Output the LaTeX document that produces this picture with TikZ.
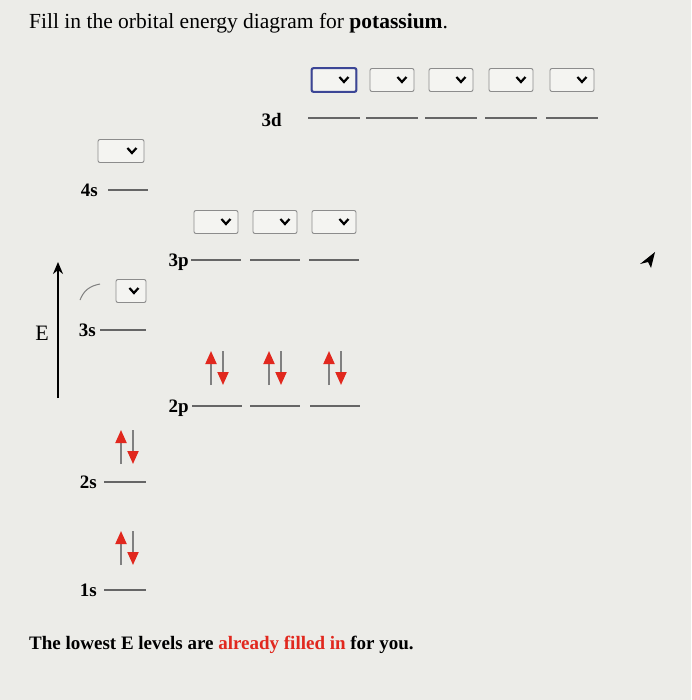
\documentclass[tikz,border=0pt]{standalone}
\usepackage{fontspec}
\setmainfont{Liberation Serif}
\usetikzlibrary{arrows.meta,calc}
\definecolor{bg}{RGB}{236,236,232}
\definecolor{redd}{RGB}{225,40,30}
\definecolor{blu}{RGB}{60,70,150}
\tikzset{
 lvl/.style={draw=gray!80!black,line width=1.5pt},
 lab/.style={font=\bfseries\fontsize{19}{19}\selectfont,anchor=east,inner sep=1pt},
 sel/.style={draw=gray!90,line width=0.9pt,rounded corners=2pt,minimum width=44pt,minimum height=23pt,fill=bg!60!white},
 upa/.style={draw=gray,line width=2pt,-{Triangle[length=13pt,width=11pt,fill=redd,color=redd]}},
}
\newcommand{\chev}[1]{\draw[line width=2.2pt] ($(#1.east)+(-17pt,3pt)$) -- ($(#1.east)+(-12.5pt,-2pt)$) -- ($(#1.east)+(-8pt,3pt)$);}
\newcommand{\pair}[2]{%
 \draw[upa] (#1-6,#2+17) coordinate (u#1#2) -- (#1-6,#2-17);
 \draw[upa] (#1+6,#2-17) coordinate (d#1#2) -- (#1+6,#2+17);}
\begin{document}
\begin{tikzpicture}[x=1pt,y=-1pt]
\fill[bg] (0,0) rectangle (691,700);
\useasboundingbox (0,0) rectangle (691,700);
\node[anchor=base west,font=\fontsize{21.5}{21.5}\selectfont,inner sep=0] (title) at (29,29) {Fill in the orbital energy diagram for \textbf{potassium}.};
% 3d
\node[lab] (l3d) at (283,120) {3d};
\foreach \x [count=\i] in {334,392,451,511,572}{
 \draw[lvl] (\x-26,118) coordinate (a3d\i) -- (\x+26,118);
 \node[sel] (s3d\i) at (\x,80) {}; \chev{s3d\i}}
\draw[blu,line width=2pt,rounded corners=2pt] (s3d1.south west) rectangle (s3d1.north east);
% 4s
\node[lab] (l4s) at (99,190) {4s};
\draw[lvl] (108,190) coordinate (a4s) -- (148,190);
\node[sel,minimum width=46pt] (s4s) at (121,151) {}; \chev{s4s}
% 3p
\node[lab] (l3p) at (190,262) {3p};
\foreach \x [count=\i] in {216,275,334}{
 \draw[lvl] (\x-25,260) coordinate (a3p\i) -- (\x+25,260);
 \node[sel] (s3p\i) at (\x,222) {}; \chev{s3p\i}}
% E axis
\node[font=\fontsize{22}{22}\selectfont,inner sep=0] (E) at (42,333) {E};
\draw[line width=1.5pt,-{Stealth[length=12pt,width=10pt]}] (58,398) coordinate (ebot) -- (58,262) coordinate (etop);
\draw[gray,line width=1pt] (80,300) .. controls (84,290) and (90,286) .. (100,284);
% 3s
\node[lab] (l3s) at (97,330) {3s};
\draw[lvl] (100,330) coordinate (a3s) -- (146,330);
\node[sel,minimum width=30pt] (s3s) at (131,291) {}; \chev{s3s}
% 2p
\node[lab] (l2p) at (190,408) {2p};
\foreach \x [count=\i] in {217,275,335}{
 \draw[lvl] (\x-25,406) coordinate (a2p\i) -- (\x+25,406);
 \pair{\x}{368}}
% 2s
\node[lab] (l2s) at (98,482) {2s};
\draw[lvl] (104,482) coordinate (a2s) -- (146,482);
\pair{127}{447}
% 1s
\node[lab] (l1s) at (98,590) {1s};
\draw[lvl] (104,590) coordinate (a1s) -- (146,590);
\pair{127}{548}
% cursor
\fill[black] (640,264) coordinate (cur) -- (655,252) -- (651,268) -- (648,262) -- cycle;
\node[anchor=base west,font=\bfseries\fontsize{19}{19}\selectfont,inner sep=0] (foot) at (29,649) {The lowest E levels are \textcolor{redd}{already filled in} for you.};
\end{tikzpicture}
\end{document}
